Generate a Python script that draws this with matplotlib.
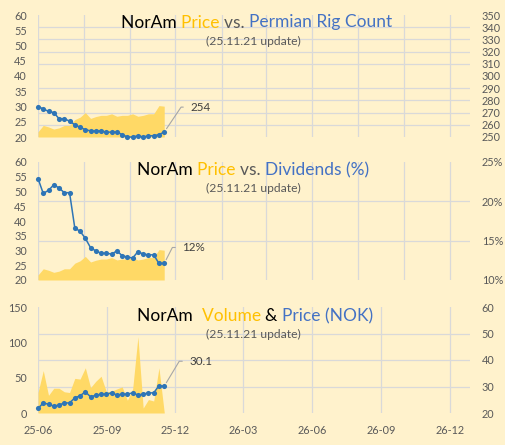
import matplotlib
matplotlib.use('Agg')
import matplotlib.pyplot as plt
import matplotlib.dates as mdates
import numpy as np
import datetime as dt

plt.rcParams['font.family'] = ['Lato', 'DejaVu Sans']

# ---------------- data ----------------
date_strings = ['2025-06-01', '2025-06-08', '2025-06-15', '2025-06-22', '2025-06-29',
                '2025-07-06', '2025-07-13', '2025-07-20', '2025-07-27', '2025-08-03',
                '2025-08-10', '2025-08-17', '2025-08-24', '2025-08-31', '2025-09-07',
                '2025-09-14', '2025-09-21', '2025-09-28', '2025-10-05', '2025-10-12',
                '2025-10-19', '2025-10-26', '2025-11-02', '2025-11-09', '2025-11-16']
price_nok = [21.7, 23.8, 23.3, 22.6, 23.0, 23.8, 23.8, 25.7, 26.5, 28.0,
             26.1, 26.7, 27.1, 27.1, 27.6, 26.8, 27.1, 27.1, 27.6, 26.8,
             27.1, 27.6, 27.6, 30.3, 30.1]
rig_count = [275, 273, 271, 270, 265, 265, 263, 260, 258, 256,
             255, 255, 255, 254, 254, 254, 252, 250, 250, 251,
             250, 251, 251, 252, 254]
dividend_pct = [22.9, 21.0, 21.4, 22.1, 21.7, 21.1, 21.1, 16.6, 16.2, 15.3,
                14.1, 13.7, 13.4, 13.4, 13.3, 13.7, 13.1, 12.9, 12.8, 13.6,
                13.3, 13.2, 13.2, 12.1, 12.1]
volume = [29, 60, 25, 35, 35, 30, 29, 49, 48, 64,
          36, 45, 52, 30, 31, 34, 37, 18, 34, 108,
          7, 19, 17, 64, 1]

last_labels = ['254', '12%', '30.1']
subtitle = '(25.11.21 update)'
titles = [
    [('NorAm ', '#000000'), ('Price ', '#FFC000'), ('vs. ', '#595959'), ('Permian Rig Count', '#4472C4')],
    [('NorAm ', '#000000'), ('Price ', '#FFC000'), ('vs. ', '#595959'), ('Dividends (%)', '#4472C4')],
    [('NorAm  ', '#000000'), ('Volume ', '#FFC000'), ('& ', '#000000'), ('Price (NOK)', '#4472C4')],
]

dates = [dt.datetime.strptime(s, '%Y-%m-%d') for s in date_strings]

# ---------------- style ----------------
BG = '#FFF2CC'
AREA = '#FFD966'
LINE = '#2E75B6'
GRID = '#D9D9D9'
TICK = '#595959'
W, H = 506, 445

fig = plt.figure(figsize=(W / 100, H / 100), dpi=100, facecolor=BG)

def px_axes(left, top, right, bottom):
    return fig.add_axes([left / W, 1 - bottom / H, (right - left) / W, (bottom - top) / H])

xmin = dt.datetime(2025, 6, 1)
xmax = dt.datetime(2026, 12, 28)
tick_fs = 7.8

def style(ax, axr):
    for a in (ax, axr):
        for s in a.spines.values():
            s.set_visible(False)
        a.tick_params(length=0, labelsize=tick_fs, labelcolor=TICK)
        a.set_xlim(xmin, xmax)
    ax.set_facecolor(BG)
    ax.set_axisbelow(True)
    ax.tick_params(axis='y', pad=8)
    axr.tick_params(axis='y', pad=8.5)
    ax.grid(True, axis='x', color=GRID, linewidth=0.9)
    ax.grid(True, axis='y', which='minor', color=GRID, linewidth=0.9)
    ax.tick_params(which='minor', length=0)

def add_line(axr, values):
    axr.plot(dates, values, color=LINE, linewidth=1.1, marker='o', markersize=3.7,
             markeredgewidth=0, clip_on=False, zorder=5)

def add_label(axr, values, text, dx, dy, ang):
    axr.annotate(text, xy=(dates[-1], values[-1]), xytext=(dx, dy), textcoords='offset pixels',
                 ha='left', va='center', fontsize=8.4, color='#404040',
                 arrowprops=dict(arrowstyle='-', color='#A6A6A6', linewidth=0.8,
                                 relpos=(0, 0.5), shrinkA=3, shrinkB=3,
                                 connectionstyle='angle,angleA=0,angleB=%d,rad=0' % ang))

# ---------- panel 1 ----------
ax1 = px_axes(38, 15, 470, 137)
ax1r = ax1.twinx()
style(ax1, ax1r)
ax1.fill_between(dates, price_nok, 20, color=AREA, linewidth=0, zorder=2)
ax1.set_ylim(20, 60)
ax1.set_yticks(np.arange(20, 61, 5))
ax1r.set_ylim(250, 350)
ax1r.set_yticks(np.arange(250, 351, 10))
ax1.set_yticks(np.linspace(20, 60, 11), minor=True)
ax1.xaxis.set_major_locator(mdates.MonthLocator(bymonth=[2, 4, 6, 8, 10, 12]))
ax1.set_xticklabels([])
add_line(ax1r, rig_count)
add_label(ax1r, rig_count, last_labels[0], 26, 25, 56)

# ---------- panel 2 ----------
ax2 = px_axes(38, 162, 470, 280)
ax2r = ax2.twinx()
style(ax2, ax2r)
ax2.fill_between(dates, price_nok, 20, color=AREA, linewidth=0, zorder=2)
ax2.set_ylim(20, 60)
ax2.set_yticks(np.arange(20, 61, 5))
ax2r.set_ylim(10, 25)
ax2r.set_yticks(np.arange(10, 26, 5))
ax2r.set_yticklabels(['%d%%' % v for v in np.arange(10, 26, 5)])
ax2.set_yticks(np.linspace(20, 60, 4), minor=True)
ax2.xaxis.set_major_locator(mdates.MonthLocator(bymonth=[2, 4, 6, 8, 10, 12]))
ax2.set_xticklabels([])
add_line(ax2r, dividend_pct)
add_label(ax2r, dividend_pct, last_labels[1], 18, 16, 63)

# ---------- panel 3 ----------
ax3 = px_axes(38, 307, 470, 413)
ax3r = ax3.twinx()
style(ax3, ax3r)
ax3.fill_between(dates, volume, 0, color=AREA, linewidth=0, zorder=2)
ax3.set_ylim(0, 150)
ax3.set_yticks(np.arange(0, 151, 50))
ax3r.set_ylim(20, 60)
ax3r.set_yticks(np.arange(20, 61, 10))
ax3.set_yticks(np.linspace(0, 150, 5), minor=True)
ax3.xaxis.set_major_locator(mdates.MonthLocator(bymonth=[3, 6, 9, 12]))
ax3.xaxis.set_major_formatter(mdates.DateFormatter('%y-%m'))
ax3.tick_params(axis='x', pad=9)
add_line(ax3r, price_nok)
add_label(ax3r, price_nok, last_labels[2], 25, 25, 59)

# ---------- titles ----------
renderer = fig.canvas.get_renderer()
title_fs = 12.5
title_pos = [(121, 27.5), (137, 175), (137, 321)]
sub_y = [41.5, 188.5, 334]
for pieces, (xl, yb), sy in zip(titles, title_pos, sub_y):
    x = xl
    for txt, col in pieces:
        t = fig.text(x / W, 1 - yb / H, txt, color=col, fontsize=title_fs,
                     ha='left', va='baseline')
        x += t.get_window_extent(renderer).width
    fig.text(253 / W, 1 - sy / H, subtitle, color=TICK, fontsize=8.7,
             ha='center', va='center')

fig.savefig('out.png', dpi=100, facecolor=BG)
